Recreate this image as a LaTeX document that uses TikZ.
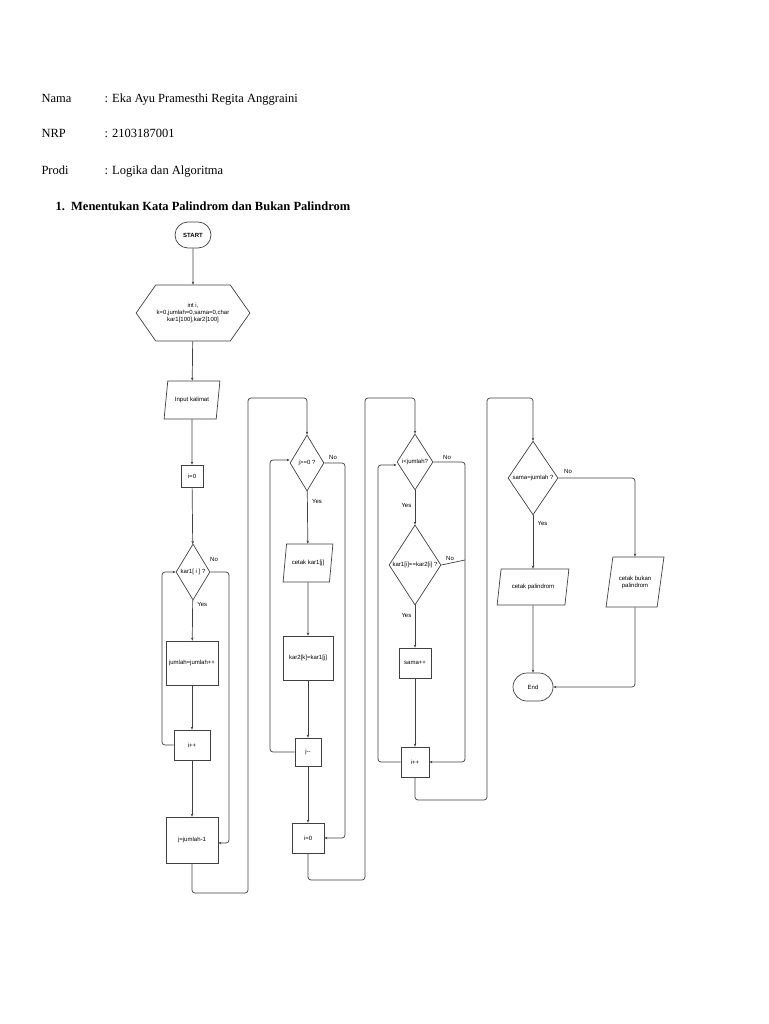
\documentclass[tikz,border=0pt]{standalone}
\usepackage{fontspec}
\setmainfont{Liberation Serif}
\newfontfamily\diagfont{Liberation Sans}
\usetikzlibrary{shapes.geometric,shapes.misc,shapes.symbols,arrows.meta}
\begin{document}
\begin{tikzpicture}[x=1pt,y=-1pt,
  base/.style={draw=black!75,line width=0.7pt,inner sep=1pt,align=center,font=\diagfont\fontsize{6}{7}\selectfont},
  term/.style={base,rounded rectangle,minimum width=#1,minimum height=26pt},
  box/.style={base,rectangle,minimum width=#1},
  dia/.style={base,diamond,aspect=0.6,minimum width=#1,inner sep=0pt},
  para/.style={base,trapezium,trapezium left angle=70,trapezium right angle=110,trapezium stretches=true,minimum width=#1},
  hexa/.style={base,signal,signal to=east and west,signal pointer angle=110,minimum width=95pt,minimum height=56pt},
  lbl/.style={font=\diagfont\fontsize{6}{7}\selectfont},
  line/.style={draw=black!75,line width=0.7pt,rounded corners=3pt},
  arr/.style={line,-{Stealth[length=3pt,width=2.5pt]}},
  hdr/.style={anchor=base west,font=\fontsize{12.5}{14}\selectfont}]
\useasboundingbox (0,0) rectangle (768,1024);
\node[hdr] (h1) at (38,103) {Nama};
\node[hdr] (h1b) at (101,103) {: Eka Ayu Pramesthi Regita Anggraini};
\node[hdr] (h2) at (38,138) {NRP};
\node[hdr] (h2b) at (101,138) {: 2103187001};
\node[hdr] (h3) at (38,175) {Prodi};
\node[hdr] (h3b) at (101,175) {: Logika dan Algoritma};
\node[hdr,font=\bfseries\fontsize{12.5}{14}\selectfont] (h4) at (52,211) {1.\ \ Menentukan Kata Palindrom dan Bukan Palindrom};
% column 1
\node[term=38pt] (start) at (193,235) {\textbf{START}};
\node[hexa] (init) at (193,313) {int i,\\k=0,jumlah=0,sama=0,char\\kar1[100],kar2[100]};
\node[para=56pt,minimum height=38pt] (inp) at (192,400) {Input kalimat};
\node[box=22pt,minimum height=22pt] (i0) at (192,476) {i=0};
\node[dia=34pt,minimum height=56pt] (d1) at (193,572) {kar1[ i ] ?};
\node[box=52pt,minimum height=44pt] (jml) at (192,663) {jumlah=jumlah++};
\node[box=36pt,minimum height=30pt] (ipp1) at (192,745) {i++};
\node[box=52pt,minimum height=46pt] (j1) at (192,840) {j=jumlah-1};
\draw[arr] (start) -- (init);
\draw[arr] (init) -- (inp);
\draw[arr] (inp) -- (i0);
\draw[arr] (i0) -- (d1);
\draw[arr] (d1) -- node[lbl,pos=0.12,right=1pt]{Yes} (jml);
\draw[arr] (jml) -- (ipp1);
\draw[arr] (ipp1) -- (j1);
\draw[arr] (ipp1.west) -| (162,572) -- (d1.west);
\draw[arr] (d1.east) -| (229,843) -- (j1.east |- 0,843);
\node[lbl] (no1) at (214,559) {No};
% column 2
\node[dia=34pt,minimum height=56pt] (d2) at (307,463) {j>=0 ?};
\node[para=50pt,minimum height=38pt] (ck) at (308,563) {cetak kar1[j]};
\node[box=50pt,minimum height=44pt] (k2) at (308,658) {kar2[k]=kar1[j]};
\node[box=26pt,minimum height=28pt] (jmm) at (308,752) {j--};
\node[box=32pt,minimum height=30pt] (i02) at (308,838) {i=0};
\draw[arr] (j1.south) |- (248,893) |- (307,398) -- (d2.north);
\draw[arr] (d2) -- node[lbl,pos=0.2,right=1pt]{Yes} (ck);
\draw[arr] (ck) -- (k2);
\draw[arr] (k2) -- (jmm);
\draw[arr] (jmm) -- (i02);
\draw[arr] (jmm.west) -| (270,460) -- (d2.west |- 0,460);
\draw[arr] (d2.east) -| (345,838) -- (i02.east);
\node[lbl] (no2) at (333,457) {No};
% column 3
\node[dia=36pt,minimum height=56pt] (d3) at (415,462) {i<jumlah?};
\node[dia=52pt,minimum height=56pt] (d4) at (415,565) {kar1[i]==kar2[i] ?};
\node[box=32pt,minimum height=30pt] (sp) at (415,663) {sama++};
\node[box=28pt,minimum height=30pt] (ipp2) at (415,762) {i++};
\draw[arr] (i02.south) |- (365,880) |- (415,398) -- (d3.north);
\draw[arr] (d3) -- node[lbl,pos=0.45,left=0pt]{Yes} (d4);
\draw[arr] (d4) -- node[lbl,pos=0.25,left=0pt]{Yes} (sp);
\draw[arr] (sp) -- (ipp2);
\draw[arr] (d3.east) -| (465,762) -- (ipp2.east);
\draw[line] (d4.east) -- (465,560);
\draw[arr] (ipp2.west) -| (378,465) -- (d3.west |- 0,465);
\node[lbl] (no3) at (447,457) {No};
\node[lbl] (no4) at (450,558) {No};
% column 4
\node[dia=50pt,minimum height=70pt] (d5) at (533,478) {sama=jumlah ?};
\node[para=72pt,minimum height=36pt] (cp) at (533,587) {cetak palindrom};
\node[para=58pt,minimum height=50pt] (cbp) at (635,582) {cetak bukan\\palindrom};
\node[term=42pt,minimum height=28pt] (end) at (533,687) {End};
\draw[arr] (ipp2.south) |- (487,800) |- (533,398) -- (d5.north);
\draw[arr] (d5) -- node[lbl,pos=0.15,right=1pt]{Yes} (cp);
\draw[arr] (d5.east) -| (cbp.north);
\node[lbl] (no5) at (568,471) {No};
\draw[arr] (cp) -- (end);
\draw[arr] (cbp.south) |- (end.east);
\end{tikzpicture}
\end{document}
